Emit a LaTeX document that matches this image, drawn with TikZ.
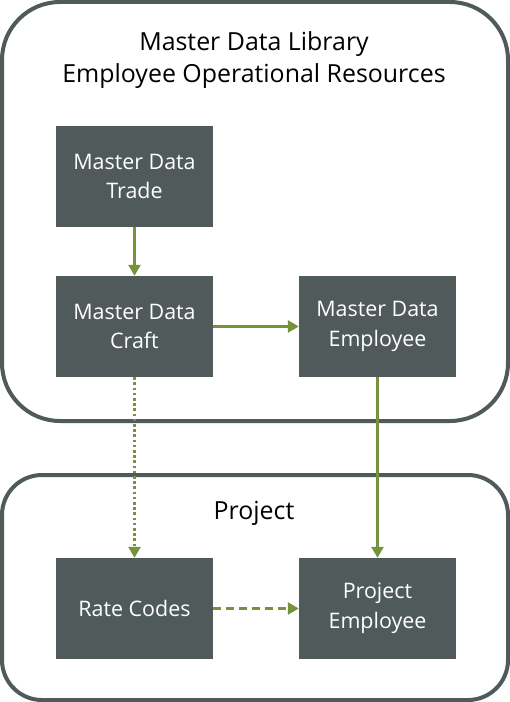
\documentclass[tikz,border=0pt]{standalone}
\usepackage{fontspec}
\setmainfont{Open Sans}
\usetikzlibrary{arrows.meta}
\definecolor{slate}{RGB}{80,90,90}
\definecolor{olive}{RGB}{118,146,60}
\begin{document}
\begin{tikzpicture}[x=1bp,y=-1bp,
  frame/.style={draw=slate,line width=4bp},
  box/.style={fill=slate,text=white,minimum width=157bp,minimum height=101bp,inner sep=0pt,align=center,font=\fontsize{21.5}{30}\selectfont},
  title/.style={align=center,font=\fontsize{25}{33}\selectfont},
  link/.style={draw=olive,line width=2.6bp,-{Triangle[length=11bp,width=12bp]}}]
\useasboundingbox (0,0) rectangle (510,702);
\draw[frame,rounded corners=58bp] (2,2) rectangle (508,421);
\draw[frame,rounded corners=40bp] (2,475) rectangle (508,700);
\node[title] (t1) at (254,60) {Master Data Library\\Employee Operational Resources};
\node[title] (t2) at (254,513) {Project};
\node[box] (trade) at (134.5,176.5) {Master Data\\Trade};
\node[box] (craft) at (134.5,326.5) {Master Data\\Craft};
\node[box] (emp) at (377.5,326.5) {Master Data\\Employee};
\node[box] (rate) at (134.5,608.5) {Rate Codes};
\node[box] (pemp) at (377.5,608.5) {Project\\Employee};
\draw[link] (trade) -- (craft);
\draw[link] (craft) -- (emp);
\draw[link,dash pattern=on 2.6bp off 2.6bp] (craft) -- (rate);
\draw[link] (emp) -- (pemp);
\draw[link,dash pattern=on 8bp off 5bp] (rate) -- (pemp);
\end{tikzpicture}
\end{document}
